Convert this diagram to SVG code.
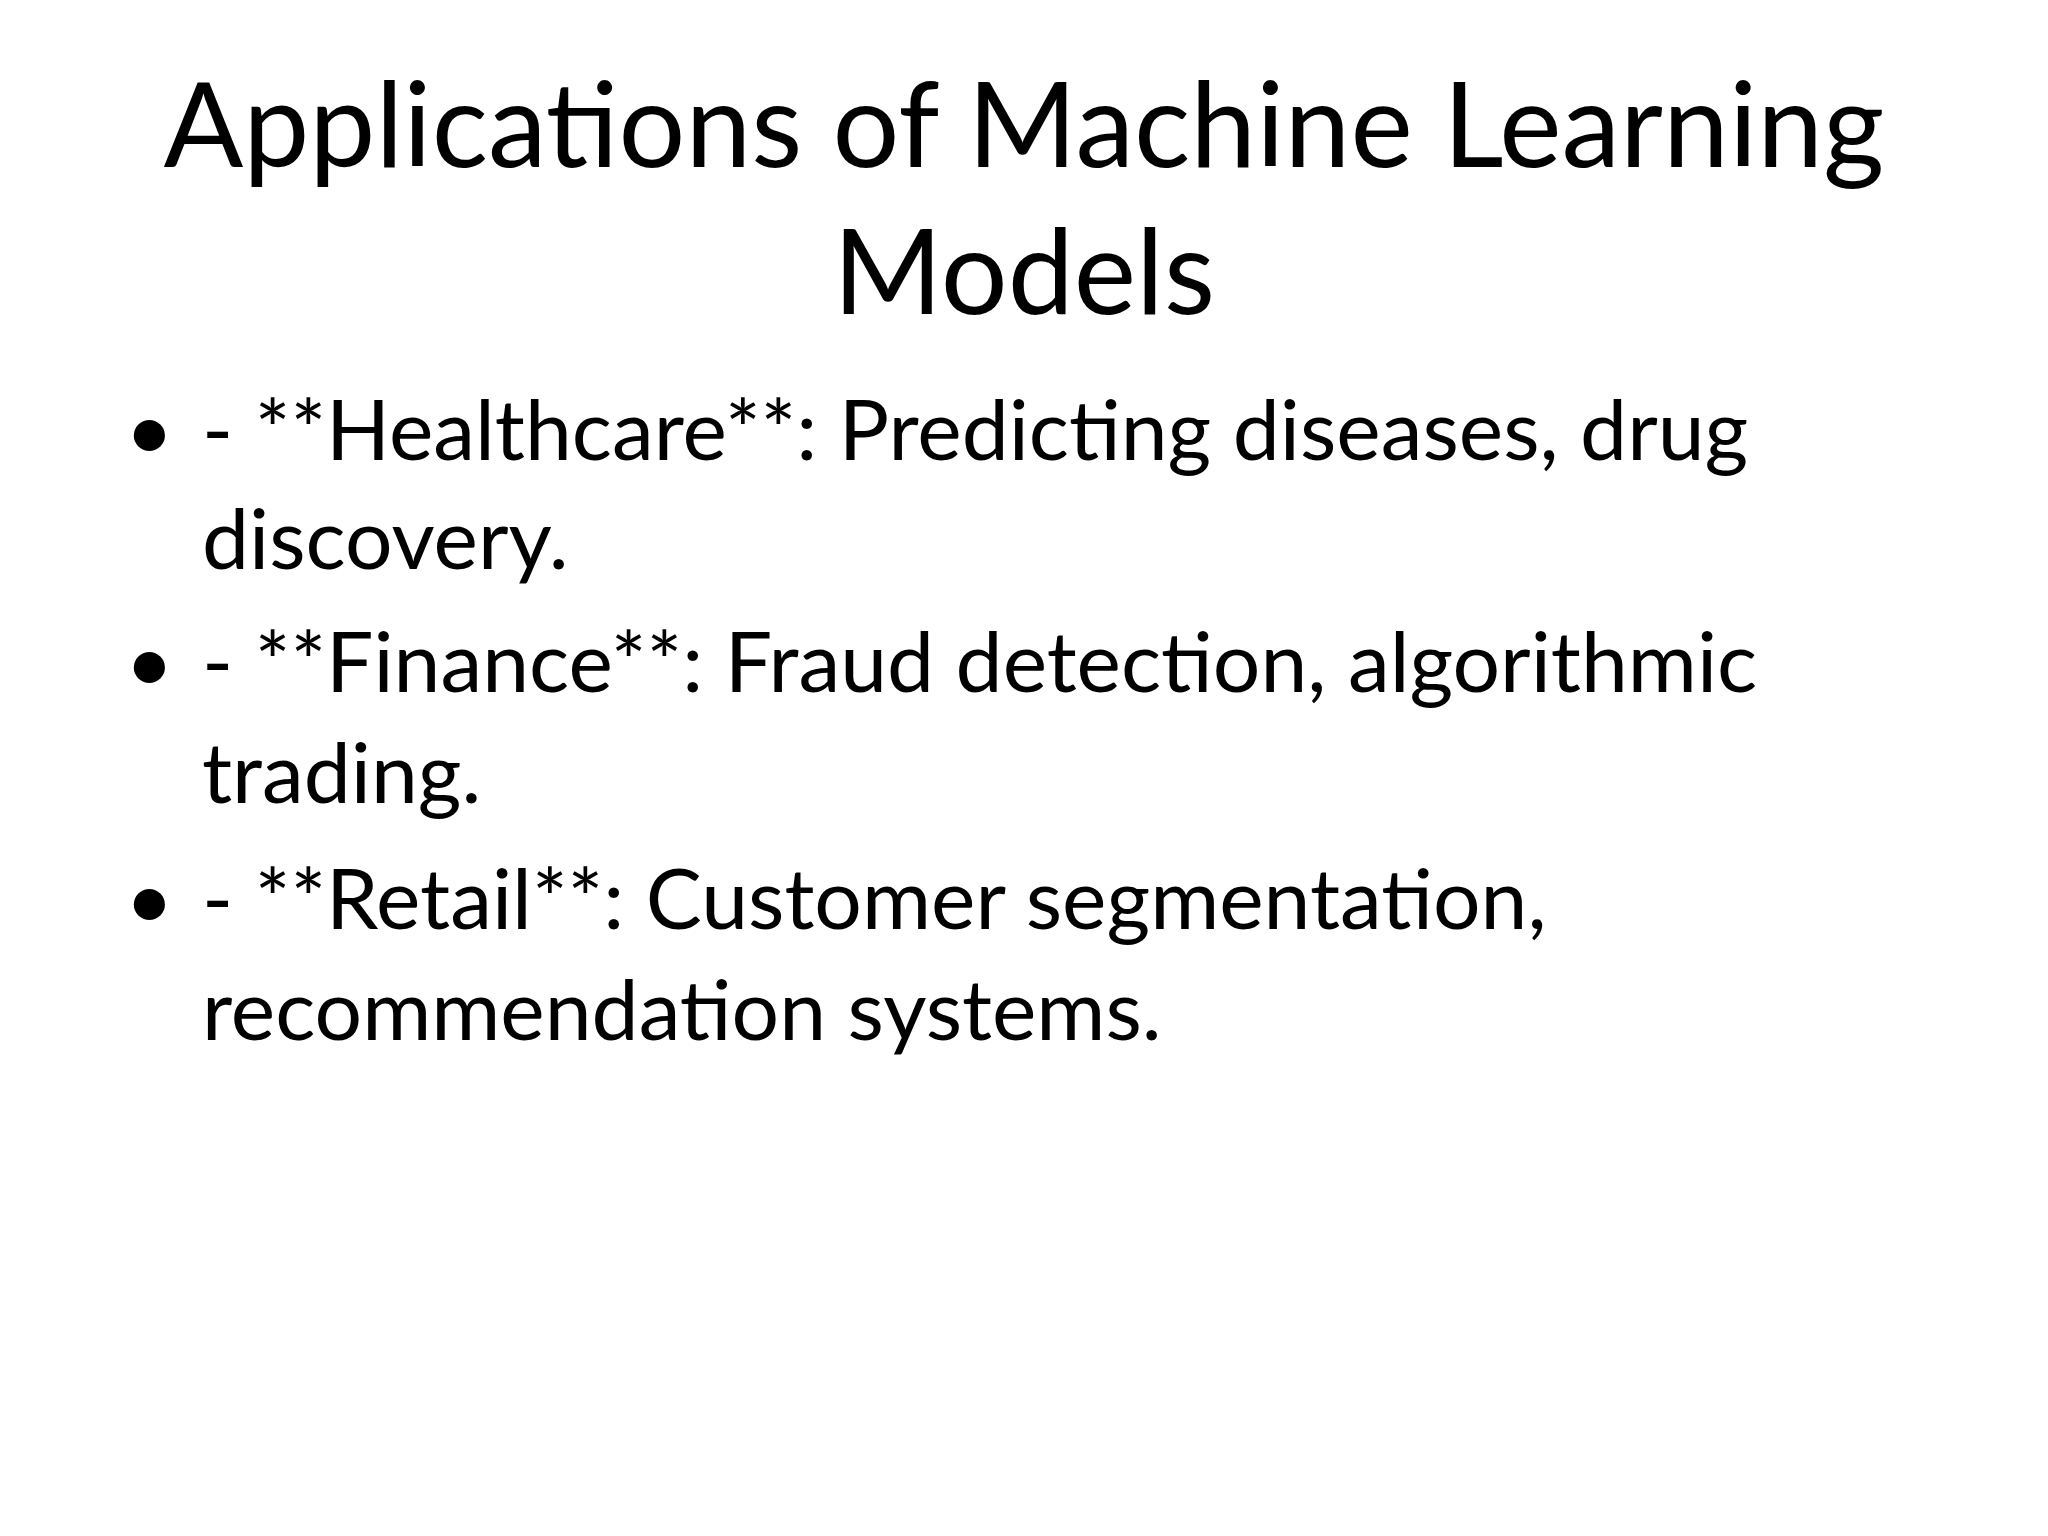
<svg xmlns="http://www.w3.org/2000/svg" width="2048" height="1536" viewBox="0 0 2048 1536">
<style>
.t{font-family:Lato,"Open Sans",sans-serif;fill:#000}
.title{font-size:118px;text-anchor:middle}
.b{font-size:84px}
</style>
<rect width="2048" height="1536" fill="#fff"/>
<g id="title">
<text class="t title" x="1024" y="167">Applications of Machine Learning</text>
<text class="t title" x="1024" y="314">Models</text>
</g>
<g id="bullets">
<text class="t b" x="125" y="460">•</text>
<text class="t b" x="202" y="460">- **Healthcare**: Predicting diseases, drug</text>
<text class="t b" x="202" y="569">discovery.</text>
<text class="t b" x="125" y="692">•</text>
<text class="t b" x="202" y="692">- **Finance**: Fraud detection, algorithmic</text>
<text class="t b" x="202" y="803">trading.</text>
<text class="t b" x="125" y="929">•</text>
<text class="t b" x="202" y="929">- **Retail**: Customer segmentation,</text>
<text class="t b" x="202" y="1040">recommendation systems.</text>
</g>
</svg>
